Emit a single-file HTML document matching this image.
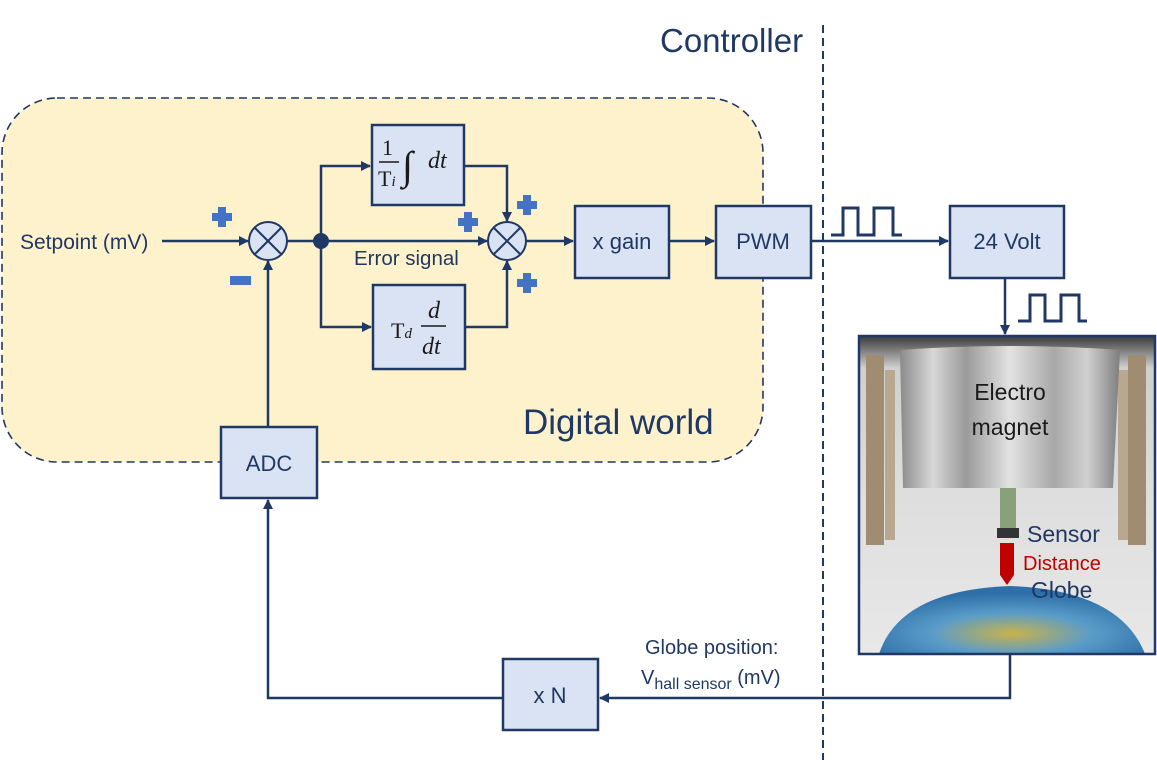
<!DOCTYPE html>
<html><head><meta charset="utf-8"><style>
html,body{margin:0;padding:0;background:#fff;}
svg{display:block;}
text{font-family:"Liberation Sans",sans-serif;fill:#203864;}
.m{font-family:"Liberation Serif",serif;fill:#1a1a1a;}
</style></head><body>
<svg width="1157" height="760" viewBox="0 0 1157 760" xmlns="http://www.w3.org/2000/svg">
<defs>
<marker id="a" markerWidth="10" markerHeight="10" refX="9" refY="5" orient="auto" markerUnits="userSpaceOnUse"><path d="M0,0 L10,5 L0,10 z" fill="#203864"/></marker>
<linearGradient id="cyl" x1="0" x2="1" y1="0" y2="0">
<stop offset="0" stop-color="#8a8a8a"/><stop offset="0.15" stop-color="#d8d8d8"/><stop offset="0.3" stop-color="#9a9a9a"/><stop offset="0.5" stop-color="#e2e2e2"/><stop offset="0.7" stop-color="#a8a8a8"/><stop offset="0.85" stop-color="#d0d0d0"/><stop offset="1" stop-color="#7e7e7e"/></linearGradient>
<linearGradient id="bg" x1="0" x2="0" y1="0" y2="1"><stop offset="0" stop-color="#3a3a3a"/><stop offset="0.1" stop-color="#cfcfcf"/><stop offset="0.5" stop-color="#dedede"/><stop offset="1" stop-color="#e8e8e8"/></linearGradient>
<radialGradient id="gl" cx="0.5" cy="0.7" r="0.6"><stop offset="0" stop-color="#c9b24a"/><stop offset="0.5" stop-color="#5a9cc8"/><stop offset="1" stop-color="#2e6fa8"/></radialGradient>
</defs>
<rect x="2" y="98" width="761" height="364" rx="55" fill="#fef2cc" stroke="#203864" stroke-width="1.6" stroke-dasharray="8,5"/>
<line x1="823" y1="25" x2="823" y2="760" stroke="#203864" stroke-width="2" stroke-dasharray="8,5"/>
<text x="660" y="52" font-size="33">Controller</text>
<text x="523" y="434" font-size="35">Digital world</text>
<text x="20" y="249" font-size="21">Setpoint (mV)</text>
<text x="354" y="265" font-size="20.5">Error signal</text>
<g stroke="#203864" stroke-width="2.5" fill="none">
<line x1="162" y1="241" x2="248" y2="241" marker-end="url(#a)"/>
<line x1="287" y1="241" x2="487" y2="241" marker-end="url(#a)"/>
<polyline points="321,241 321,166 370,166" marker-end="url(#a)"/>
<polyline points="321,241 321,327 371,327" marker-end="url(#a)"/>
<polyline points="464,166 507,166 507,221" marker-end="url(#a)"/>
<polyline points="465,327 507,327 507,261" marker-end="url(#a)"/>
<line x1="526" y1="241" x2="573" y2="241" marker-end="url(#a)"/>
<line x1="669" y1="241" x2="714" y2="241" marker-end="url(#a)"/>
<line x1="811" y1="241" x2="948" y2="241" marker-end="url(#a)"/>
<line x1="1005" y1="278" x2="1005" y2="334" marker-end="url(#a)"/>
<line x1="268" y1="427" x2="268" y2="261" marker-end="url(#a)"/>
<polyline points="1010,654 1010,698 600,698" marker-end="url(#a)"/>
<polyline points="503,698 268,698 268,500" marker-end="url(#a)"/>
<polyline points="831,235 843,235 843,208 858,208 858,235 874,235 874,208 893,208 893,235 902,235" stroke-width="3"/>
<polyline points="1018,321 1030,321 1030,295 1045,295 1045,321 1061,321 1061,295 1079,295 1079,321 1087,321" stroke-width="3"/>
</g>
<circle cx="321" cy="241" r="8" fill="#203864"/>
<g fill="#dae3f3" stroke="#203864" stroke-width="2.5">
<circle cx="268" cy="241" r="19" stroke-width="2"/>
<circle cx="507" cy="241" r="19" stroke-width="2"/>
<rect x="372" y="125" width="92" height="80"/>
<rect x="373" y="285" width="92" height="84"/>
<rect x="575" y="206" width="94" height="72"/>
<rect x="716" y="206" width="95" height="72"/>
<rect x="950" y="206" width="114" height="72"/>
<rect x="221" y="427" width="96" height="71"/>
<rect x="503" y="659" width="95" height="71"/>
</g>
<g stroke="#203864" stroke-width="2">
<line x1="255" y1="228" x2="281" y2="254"/><line x1="281" y1="228" x2="255" y2="254"/>
<line x1="494" y1="228" x2="520" y2="254"/><line x1="520" y1="228" x2="494" y2="254"/>
</g>
<g fill="#4472c4">
<path d="M218,207h8v6h6v8h-6v6h-8v-6h-6v-8h6z"/>
<path d="M464,212h8v6h6v8h-6v6h-8v-6h-6v-8h6z"/>
<path d="M523,195h8v6h6v8h-6v6h-8v-6h-6v-8h6z"/>
<path d="M523,273h8v6h6v8h-6v6h-8v-6h-6v-8h6z"/>
<rect x="230" y="276" width="21" height="9"/>
</g>
<text x="622" y="249" font-size="22" text-anchor="middle">x gain</text>
<text x="763" y="249" font-size="22" text-anchor="middle">PWM</text>
<text x="1007" y="249" font-size="22" text-anchor="middle">24 Volt</text>
<text x="269" y="471" font-size="22" text-anchor="middle">ADC</text>
<text x="550" y="703" font-size="22" text-anchor="middle">x N</text>
<text class="m" x="382" y="155" font-size="22">1</text>
<line x1="379" y1="162" x2="399" y2="162" stroke="#1a1a1a" stroke-width="1.5"/>
<text class="m" x="378" y="186" font-size="22">T<tspan font-style="italic" font-size="15">i</tspan></text>
<text class="m" x="402" y="179" font-size="40" font-style="italic">∫</text>
<text class="m" x="428" y="168" font-size="24" font-style="italic">dt</text>
<text class="m" x="391" y="338" font-size="22">T<tspan font-style="italic" font-size="15">d</tspan></text>
<text class="m" x="428" y="318" font-size="24" font-style="italic">d</text>
<line x1="421" y1="326" x2="446" y2="326" stroke="#1a1a1a" stroke-width="1.5"/>
<text class="m" x="422" y="354" font-size="24" font-style="italic">dt</text>
<rect x="859" y="336" width="296" height="318" fill="url(#bg)"/>
<rect x="866" y="355" width="18" height="190" fill="#a08c70"/>
<rect x="1128" y="355" width="18" height="190" fill="#a08c70"/>
<rect x="885" y="370" width="10" height="170" fill="#b8a890"/>
<rect x="1118" y="370" width="10" height="170" fill="#b8a890"/>
<path d="M900,350 Q1010,342 1120,350 L1113,488 L903,488 Z" fill="url(#cyl)"/>
<rect x="1000" y="488" width="16" height="40" fill="#8aa07a"/>
<rect x="997" y="528" width="22" height="10" fill="#333"/>
<path d="M1000,543 L1014,543 L1014,575 L1007,585 L1000,575 Z" fill="#c00000"/>
<path d="M879,654 Q900,590 1010,586 Q1120,590 1145,654 Z" fill="url(#gl)"/>
<rect x="859" y="336" width="296" height="318" fill="none" stroke="#203864" stroke-width="2.5"/>
<text x="1010" y="400" font-size="23" text-anchor="middle" style="fill:#1a1a1a">Electro</text>
<text x="1010" y="435" font-size="23" text-anchor="middle" style="fill:#1a1a1a">magnet</text>
<text x="1027" y="542" font-size="23">Sensor</text>
<text x="1023" y="570" font-size="20" style="fill:#c00000">Distance</text>
<text x="1031" y="598" font-size="23">Globe</text>
<text x="645" y="654" font-size="20">Globe position:</text>
<text x="641" y="684" font-size="20">V<tspan font-size="16" dy="5">hall sensor</tspan><tspan dy="-5"> (mV)</tspan></text>
</svg>
</body></html>
